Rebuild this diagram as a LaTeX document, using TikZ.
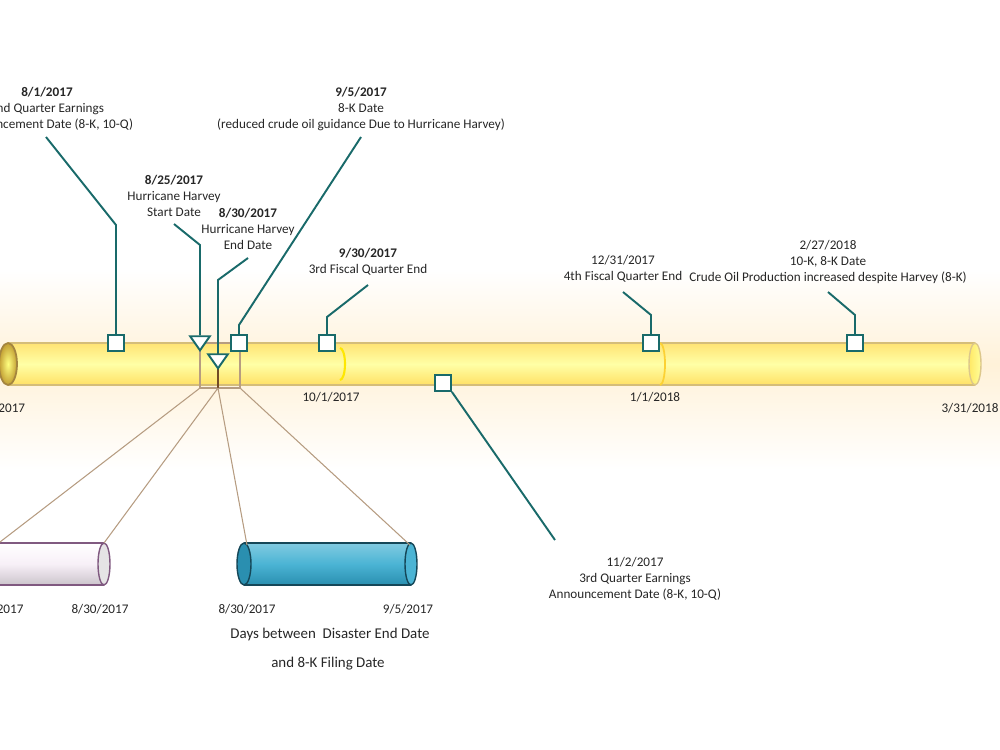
\documentclass[tikz,border=0pt]{standalone}
\usepackage{fontspec}
\setmainfont{Carlito}
\usetikzlibrary{shapes.geometric}
\definecolor{cyanT}{HTML}{4BB4D4}
\definecolor{cyanD}{HTML}{2A8FB0}
\begin{document}
\begin{tikzpicture}[x=0.02cm,y=-0.02cm,
  lbl/.style={font=\fontsize{7.5}{9}\selectfont,align=center,text=black!85},
  teal/.style={draw=teal!70!black!90,line width=1.1pt},
  sq/.style={draw=teal!70!black!90,line width=1.1pt,fill=white,minimum size=9pt,inner sep=0pt},
  tri/.style={draw=teal!70!black!90,line width=1.1pt,fill=white,isosceles triangle,shape border rotate=-90,isosceles triangle apex angle=70,minimum size=8pt,inner sep=0pt},
  zoomln/.style={draw=brown!70!black!60,line width=0.6pt}]
\useasboundingbox (0,0) rectangle (1000,750);
% glow
\shade[top color=white,bottom color=yellow!30!orange!15] (0,270) rectangle (1000,364);
\shade[top color=yellow!30!orange!15,bottom color=white] (0,364) rectangle (1000,470);
% main tube
\shade[top color=yellow!60!orange!55,bottom color=yellow!60!orange!60,middle color=yellow!35] (8,343) rectangle (975,385);
\draw[yellow!50!orange!70!black!60,line width=1pt] (8,343) -- (975,343) (8,385) -- (975,385);
\draw[yellow!60!orange!80,line width=1pt] (660,343) arc (-90:90:5 and 21);
\draw[yellow!90!orange,line width=1.2pt] (340,348) arc (-90:90:5 and 16);
\shade[left color=yellow!70!orange!60,right color=yellow!40] (975,364) ellipse (6 and 21);
\draw[yellow!50!orange!70!black!50,line width=0.8pt] (975,364) ellipse (6 and 21);
\shade[inner color=yellow!50,outer color=yellow!50!orange!70!black!80] (8,364) ellipse (9 and 21);
\draw[yellow!40!orange!60!black,line width=1pt] (8,364) ellipse (9 and 21);
% lower tubes
\shade[top color=white,bottom color=violet!15!gray!40,middle color=violet!6] (-20,543) rectangle (104,585);
\draw[gray!70!violet,line width=0.8pt] (-20,543) -- (104,543) (-20,585) -- (104,585);
\draw[gray!70!violet,line width=0.8pt,fill=violet!5!gray!20] (104,564) ellipse (6 and 21);
\shade[top color=cyanT!70,bottom color=cyanD,middle color=cyanT] (244,543) rectangle (411,585);
\draw[cyanD!50!black,line width=0.8pt] (244,543) -- (411,543) (244,585) -- (411,585);
\draw[cyanD!50!black,line width=0.8pt,fill=cyanT] (411,564) ellipse (6 and 21);
\draw[cyanD!50!black,line width=0.8pt,fill=cyanD] (244,564) ellipse (7 and 21);
% zoom box
\coordinate (b1) at (200,388); \coordinate (b2) at (218,388); \coordinate (b3) at (240,388);
\draw[zoomln] (200,343) rectangle (240,388);
\draw[brown!60!black,line width=0.8pt] (218,343) -- (218,388);
\coordinate (l1) at (0,542); \coordinate (l2) at (104,543);
\coordinate (l3) at (247,545); \coordinate (l4) at (410,545);
\draw[zoomln] (b1) -- (l1) (b2) -- (l2) (b2) -- (l3) (b3) -- (l4);
% labels and markers
\node[lbl] (t1) at (47,109) {\textbf{8/1/2017}\\2nd Quarter Earnings\\Announcement Date (8-K, 10-Q)};
\node[sq] (m1) at (116,343) {};
\draw[teal] (m1.north) -- (116,225) -- (46,137);
\node[lbl] (t2) at (174,196) {\textbf{8/25/2017}\\Hurricane Harvey\\Start Date};
\node[tri,anchor=apex] (m2) at (200,352) {};
\draw[teal] (m2.north) -- (200,245) -- (174,224);
\node[lbl] (t3) at (248,229) {\textbf{8/30/2017}\\Hurricane Harvey\\End Date};
\node[tri,anchor=apex] (m3) at (218,370) {};
\draw[teal] (m3.north) -- (218,280) -- (248,258);
\node[lbl] (t4) at (361,109) {\textbf{9/5/2017}\\8-K Date\\(reduced crude oil guidance Due to Hurricane Harvey)};
\node[sq] (m4) at (239,343) {};
\draw[teal] (m4.north) -- (239,325) -- (361,137);
\node[lbl] (t5) at (368,262) {\textbf{9/30/2017}\\3rd Fiscal Quarter End};
\node[sq] (m5) at (327,343) {};
\draw[teal] (m5.north) -- (327,317) -- (368,285);
\node[lbl] (t6) at (623,269) {12/31/2017\\4th Fiscal Quarter End};
\node[sq] (m6) at (651,343) {};
\draw[teal] (m6.north) -- (651,315) -- (623,292);
\node[lbl] (t7) at (828,262) {2/27/2018\\10-K, 8-K Date\\Crude Oil Production increased despite Harvey (8-K)};
\node[sq] (m7) at (855,343) {};
\draw[teal] (m7.north) -- (855,315) -- (828,292);
\node[lbl] (t8) at (635,579) {11/2/2017\\3rd Quarter Earnings\\Announcement Date (8-K, 10-Q)};
\node[sq] (m8) at (443,383) {};
\coordinate (e8) at (555,540);
\draw[teal] (m8.south east) -- (e8);
% dates
\node[lbl] (d0) at (0,408) {7/1/2017};
\node[lbl] (d1) at (331,397) {10/1/2017};
\node[lbl] (d2) at (655,397) {1/1/2018};
\node[lbl] (d3) at (970,408) {3/31/2018};
\node[lbl] (d4) at (-5,609) {8/25/2017};
\node[lbl] (d5) at (100,609) {8/30/2017};
\node[lbl] (d6) at (247,609) {8/30/2017};
\node[lbl] (d7) at (408,609) {9/5/2017};
\node[lbl,font=\fontsize{8.5}{10}\selectfont] (c1) at (330,635) {Days between~~Disaster End Date};
\node[lbl,font=\fontsize{8.5}{10}\selectfont] (c2) at (328,664) {and 8-K Filing Date};
\end{tikzpicture}
\end{document}
